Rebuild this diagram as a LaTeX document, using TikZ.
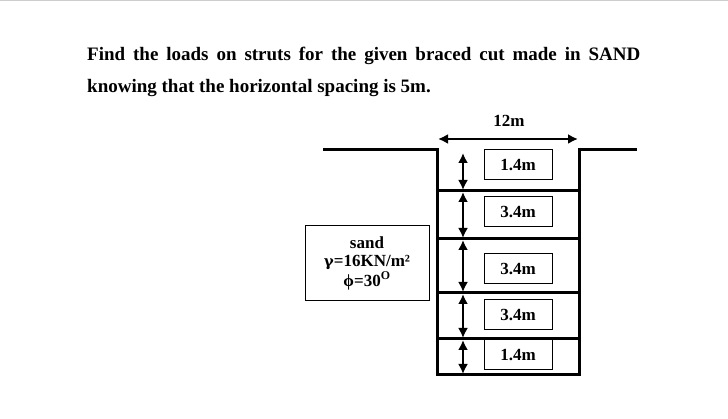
\documentclass[tikz,border=0pt]{standalone}
\usepackage{fontspec}
\setmainfont{Liberation Serif}
\usetikzlibrary{arrows.meta}
\begin{document}
\begin{tikzpicture}[x=1pt,y=-1pt,
  wall/.style={line width=3pt},
  dim/.style={line width=2.4pt,{Latex[length=10pt,width=10pt]}-{Latex[length=10pt,width=10pt]}},
  lbl/.style={draw,line width=1pt,minimum width=68pt,minimum height=30pt,font=\bfseries\fontsize{17}{19}\selectfont,inner sep=0pt},
  txt/.style={anchor=west,font=\bfseries\fontsize{19}{21}\selectfont,inner sep=0pt}]
\useasboundingbox (0,0) rectangle (728,419);
\draw[gray!40,line width=1pt] (0,1) -- (728,1);
\node[txt] (t1) at (87,56) {Find\, the\, loads\, on\, struts\, for\, the\, given\, braced\, cut\, made\, in\, SAND};
\node[txt] (t2) at (87,88) {knowing that the horizontal spacing is 5m.};
% ground and walls
\coordinate (gl) at (323,150); \coordinate (wlt) at (437,150);
\coordinate (wlb) at (437,375); \coordinate (wrb) at (579,375);
\coordinate (wrt) at (579,150); \coordinate (gr) at (637,150);
\draw[wall] (gl) -- (wlt) -- (wlb) -- (wrb) -- (wrt) -- (gr);
\foreach \y [count=\i] in {191,239,293,339} {
  \coordinate (sl\i) at (437,\y); \coordinate (sr\i) at (579,\y);
  \draw[wall] (sl\i) -- (sr\i);
}
% dimension arrows
\foreach \a/\b [count=\i] in {153/190,192/238,240/292,294/338,340/374} {
  \coordinate (da\i) at (463,\a); \coordinate (db\i) at (463,\b);
  \draw[dim] (da\i) -- (db\i);
}
\node[lbl] (b1) at (518,165) {1.4m};
\node[lbl] (b2) at (518,212) {3.4m};
\node[lbl] (b3) at (518,269) {3.4m};
\node[lbl] (b4) at (518,314.5) {3.4m};
\node[lbl] (b5) at (518,355) {1.4m};
% 12m
\coordinate (wa) at (438,139); \coordinate (wb) at (578,139);
\draw[dim] (wa) -- (wb);
\node[font=\bfseries\fontsize{17}{19}\selectfont] (w12) at (509,121) {12m};
% sand box
\node[draw,line width=1pt,minimum width=124pt,minimum height=75pt,align=center,
  font=\bfseries\fontsize{17}{17}\selectfont] (sand) at (367,263.5)
  {sand\\[1pt] \fontspec{DejaVu Serif}\fontsize{15}{17}\selectfont γ\fontspec{Liberation Serif}\bfseries\fontsize{17}{17}\selectfont=16KN/m²\\[1pt] ϕ=30\textsuperscript{O}};
\end{tikzpicture}
\end{document}
